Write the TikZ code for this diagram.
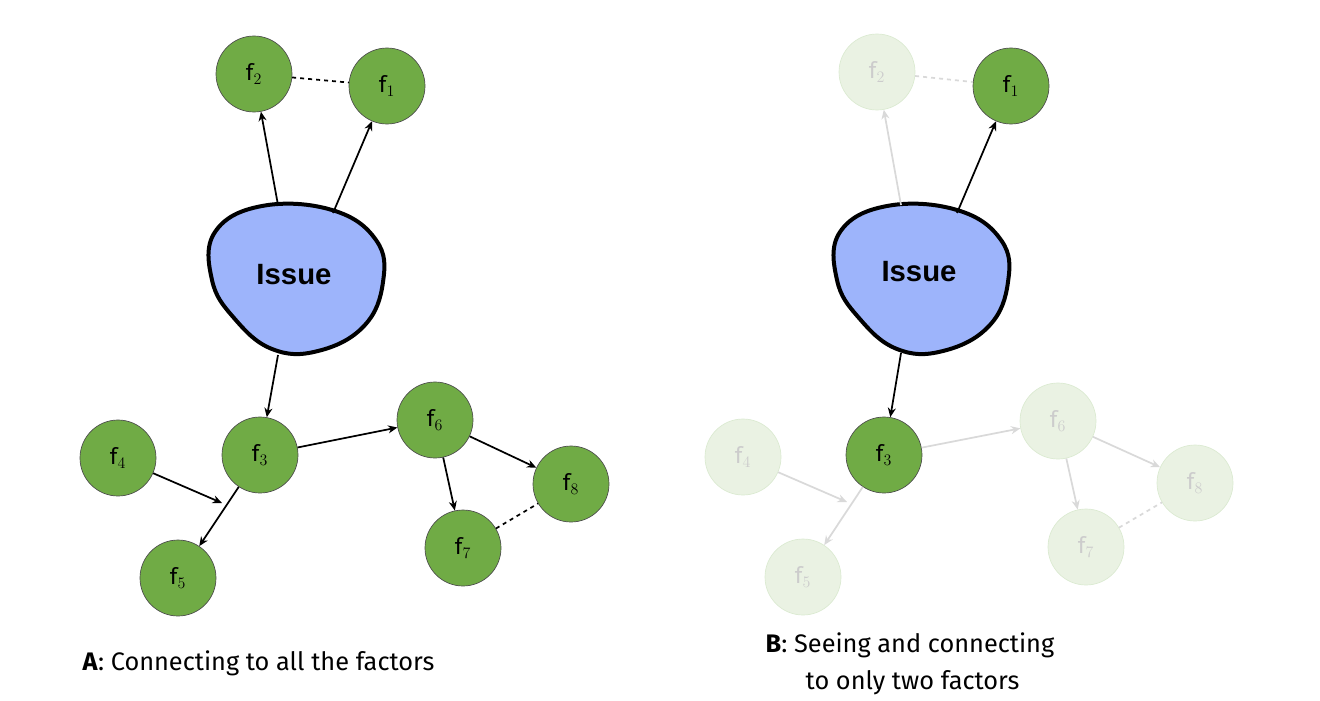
\documentclass[tikz,border=0pt]{standalone}
\usepackage{fontspec}
\setmainfont{Fira Sans}
\newfontfamily\issuefont{Liberation Sans}
\usetikzlibrary{arrows.meta,calc}
\definecolor{fgreen}{HTML}{70AB45}
\definecolor{fblue}{HTML}{9DB4FB}
\begin{document}
\begin{tikzpicture}[x=0.75pt,y=-0.75pt,
  fac/.style={circle,draw=black!70,line width=0.5pt,fill=fgreen,minimum size=57pt,inner sep=0pt,font=\fontsize{17}{17}\selectfont},
  ffac/.style={circle,draw=fgreen!25,line width=0.5pt,fill=fgreen!15,minimum size=57pt,inner sep=0pt,text=black!20,font=\fontsize{17}{17}\selectfont},
  arr/.style={-{Stealth[open,length=7pt,width=6pt]},line width=1.3pt},
  farr/.style={arr,draw=black!15},
  dsh/.style={dashed,line width=1.3pt},
  fdsh/.style={dsh,draw=black!15},
  blob/.style={draw=black,line width=3pt,fill=fblue}]
\useasboundingbox (0,0) rectangle (1320,700);
% ---------- A ----------
\draw[blob] plot[smooth cycle,tension=0.7] coordinates {(215,232)(262,206)(332,210)(376,240)(383,282)(364,326)(318,351)(272,349)(234,318)(212,280)};
\node[font=\issuefont\bfseries\fontsize{22}{22}\selectfont] (iA) at (294,275) {Issue};
\node[fac] (a2) at (254,74) {f$_2$};
\node[fac] (a1) at (387,86) {f$_1$};
\node[fac] (a3) at (260,455) {f$_3$};
\node[fac] (a4) at (118,458) {f$_4$};
\node[fac] (a5) at (178,578) {f$_5$};
\node[fac] (a6) at (435,420) {f$_6$};
\node[fac] (a8) at (571,484) {f$_8$};
\node[fac] (a7) at (463,548) {f$_7$};
\coordinate (aI2) at (278,205); \coordinate (aI1) at (333,213); \coordinate (aI3) at (278,355);
\coordinate (aj) at (222,503);
\draw[arr] (aI2) -- (a2);
\draw[arr] (aI1) -- (a1);
\draw[arr] (aI3) -- (a3);
\draw[arr] (a3) -- (a5);
\draw[arr] (a4) -- (aj);
\draw[arr] (a3) -- (a6);
\draw[arr] (a6) -- (a7);
\draw[arr] (a6) -- (a8);
\draw[dsh] (a2) -- (a1);
\draw[dsh] (a7) -- (a8);
\node[anchor=west,font=\fontsize{19}{19}\selectfont] (tA) at (78,663) {\textbf{A}: Connecting to all the factors};
% ---------- B ----------
\begin{scope}[xshift=468.75pt]
\draw[blob] plot[smooth cycle,tension=0.7] coordinates {(215,232)(262,206)(332,210)(376,240)(383,282)(364,326)(318,351)(272,349)(234,318)(212,280)};
\node[font=\issuefont\bfseries\fontsize{22}{22}\selectfont] (iB) at (294,272) {Issue};
\node[ffac] (b2) at (252,72) {f$_2$};
\node[fac] (b1) at (386,86) {f$_1$};
\node[fac] (b3) at (259,455) {f$_3$};
\node[ffac] (b4) at (118,457) {f$_4$};
\node[ffac] (b5) at (178,577) {f$_5$};
\node[ffac] (b6) at (433,421) {f$_6$};
\node[ffac] (b8) at (570,483) {f$_8$};
\node[ffac] (b7) at (461,547) {f$_7$};
\coordinate (bI2) at (276,205); \coordinate (bI1) at (332,213); \coordinate (bI3) at (276,353);
\coordinate (bj) at (222,502);
\draw[farr] (bI2) -- (b2);
\draw[arr] (bI1) -- (b1);
\draw[arr] (bI3) -- (b3);
\draw[farr] (b3) -- (b5);
\draw[farr] (b4) -- (bj);
\draw[farr] (b3) -- (b6);
\draw[farr] (b6) -- (b7);
\draw[farr] (b6) -- (b8);
\draw[fdsh] (b2) -- (b1);
\draw[fdsh] (b7) -- (b8);
\end{scope}
\node[anchor=west,font=\fontsize{19}{19}\selectfont] (tB1) at (761,645) {\textbf{B}: Seeing and connecting};
\node[anchor=west,font=\fontsize{19}{19}\selectfont] (tB2) at (801,683) {to only two factors};
\end{tikzpicture}
\end{document}
